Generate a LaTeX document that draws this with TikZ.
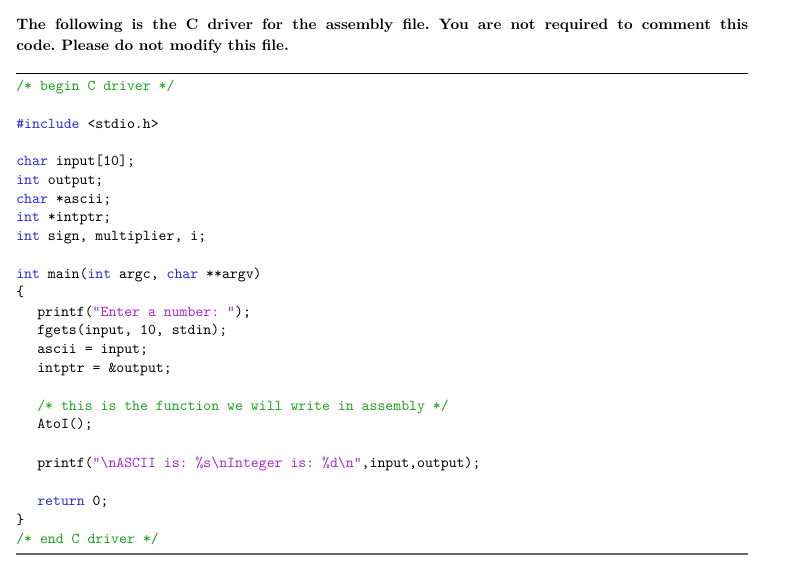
\documentclass[tikz,border=0pt]{standalone}
\usepackage{xcolor}
\definecolor{kw}{RGB}{40,40,225}
\definecolor{cm}{RGB}{30,160,30}
\definecolor{st}{RGB}{170,40,210}
\begin{document}
\frenchspacing
\begin{tikzpicture}[x=0.69pt,y=-0.69pt,
  code/.style={anchor=base west,inner sep=0,font=\ttfamily\frenchspacing\fontsize{10.4}{12}\selectfont},
  head/.style={anchor=base west,inner sep=0,font=\bfseries\frenchspacing\fontsize{10.4}{12}\selectfont}]
\useasboundingbox (0,0) rectangle (794,566);
\newcommand\Kw[1]{\textcolor{kw}{#1}}
\newcommand\Cm[1]{\textcolor{cm}{#1}}
\newcommand\Str[1]{\textcolor{st}{#1}}
\node[head] (h1) at (16,30) {\makebox[505pt][s]{The following is the C driver for the assembly file. You are not required to comment this}};
\node[head] (h2) at (16,51) {code. Please do not modify this file.};
\coordinate (r1a) at (16,73); \coordinate (r1b) at (748,73);
\draw[line width=0.6pt] (r1a) -- (r1b);
\node[code] (l1) at (16,91) {\Cm{/* begin C driver */}};
\node[code] (l2) at (16,129) {\Kw{\#include} <stdio.h>};
\node[code] (l3) at (16,166) {\Kw{char} input[10];};
\node[code] (l4) at (16,185) {\Kw{int} output;};
\node[code] (l5) at (16,204) {\Kw{char} *ascii;};
\node[code] (l6) at (16,222) {\Kw{int} *intptr;};
\node[code] (l7) at (16,241) {\Kw{int} sign, multiplier, i;};
\node[code] (l8) at (16,279) {\Kw{int} main(\Kw{int} argc, \Kw{char} **argv)};
\node[code] (l9) at (16,297) {\{};
\node[code] (l10) at (37,317) {printf(\Str{"Enter a number: "});};
\node[code] (l11) at (37,335) {fgets(input, 10, stdin);};
\node[code] (l12) at (37,354) {ascii = input;};
\node[code] (l13) at (37,373) {intptr = \&output;};
\node[code] (l14) at (37,411) {\Cm{/* this is the function we will write in assembly */}};
\node[code] (l15) at (37,429) {AtoI();};
\node[code] (l16) at (37,468) {printf(\Str{"\textbackslash nASCII is: \%s\textbackslash nInteger is: \%d\textbackslash n"},input,output);};
\node[code] (l17) at (37,506) {\Kw{return} 0;};
\node[code] (l18) at (16,525) {\}};
\node[code] (l19) at (16,544) {\Cm{/* end C driver */}};
\coordinate (r2a) at (16,554); \coordinate (r2b) at (748,554);
\draw[line width=1.4pt,gray!80!black] (r2a) -- (r2b);
\end{tikzpicture}
\end{document}
